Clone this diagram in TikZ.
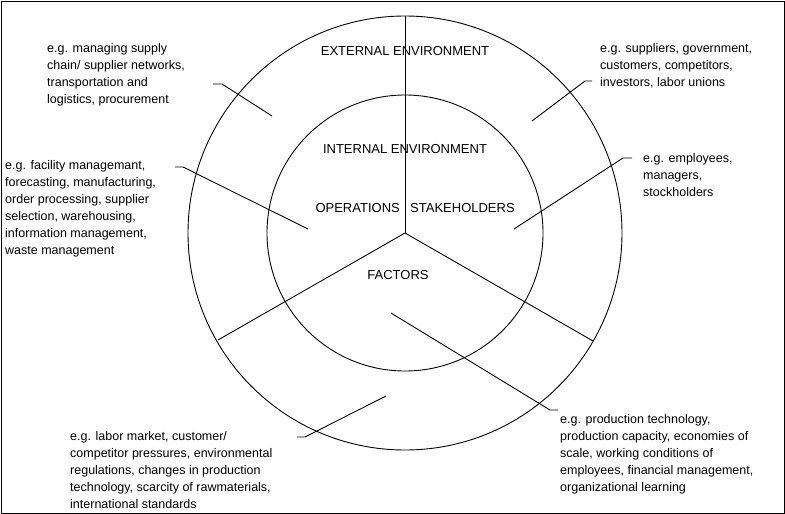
\documentclass[tikz,border=0pt]{standalone}
\usepackage{fontspec}
\setmainfont{Liberation Sans}
\begin{document}
\begin{tikzpicture}[x=1pt,y=-1pt,
  lab/.style={font=\fontsize{13}{17}\selectfont},
  txt/.style={font=\fontsize{12.5}{17}\selectfont,align=left,anchor=north west,inner sep=0pt},
  ln/.style={line width=0.9pt}]
\useasboundingbox (0,0) rectangle (785,514);
\draw[line width=1pt] (1,1) rectangle (784,513);
\coordinate (c) at (405,233);
\draw[ln] (c) circle[radius=217];
\draw[ln] (c) circle[radius=138];
\coordinate (t) at (405,16);
\coordinate (l) at (218,340);
\coordinate (r) at (593,341);
\draw[ln] (c)--(t); \draw[ln] (c)--(l); \draw[ln] (c)--(r);
\node[lab] (ext) at (405,51) {EXTERNAL ENVIRONMENT};
\node[lab] (int) at (405,149) {INTERNAL ENVIRONMENT};
\node[lab,anchor=east,inner sep=0pt] (op) at (400,208) {OPERATIONS};
\node[lab,anchor=west,inner sep=0pt] (st) at (410,208) {STAKEHOLDERS};
\node[lab] (fa) at (398,275) {FACTORS};
\node[txt] (t1) at (47,43) {e.g. managing supply\\chain/ supplier networks,\\transportation and\\logistics, procurement};
\node[txt] (t2) at (600,43) {e.g. suppliers, government,\\customers, competitors,\\investors, labor unions};
\node[txt] (t3) at (5,160) {e.g. facility managemant,\\forecasting, manufacturing,\\order processing, supplier\\selection, warehousing,\\information management,\\waste management};
\node[txt] (t4) at (643,153) {e.g. employees,\\managers,\\stockholders};
\node[txt] (t5) at (70,431) {e.g. labor market, customer/\\competitor pressures, environmental\\regulations, changes in production\\technology, scarcity of rawmaterials,\\international standards};
\node[txt] (t6) at (560,414) {e.g. production technology,\\production capacity, economies of\\scale, working conditions of\\employees, financial management,\\organizational learning};
\coordinate (a1) at (213,84); \coordinate (b1) at (272,116);
\coordinate (a2) at (592,81); \coordinate (b2) at (532,121);
\coordinate (a3) at (175,167); \coordinate (b3) at (308,229);
\coordinate (a4) at (632,158); \coordinate (b4) at (514,229);
\coordinate (a5) at (297,437); \coordinate (b5) at (386,396);
\coordinate (a6) at (558,410); \coordinate (b6) at (391,313);
\draw[ln] (a1)--++(9,0)--(b1);
\draw[ln] (a2)--++(-7,0)--(b2);
\draw[ln] (a3)--++(8,0)--(b3);
\draw[ln] (a4)--++(-9,0)--(b4);
\draw[ln] (a5)--++(8,0)--(b5);
\draw[ln] (a6)--++(-8,0)--(b6);
\end{tikzpicture}
\end{document}
